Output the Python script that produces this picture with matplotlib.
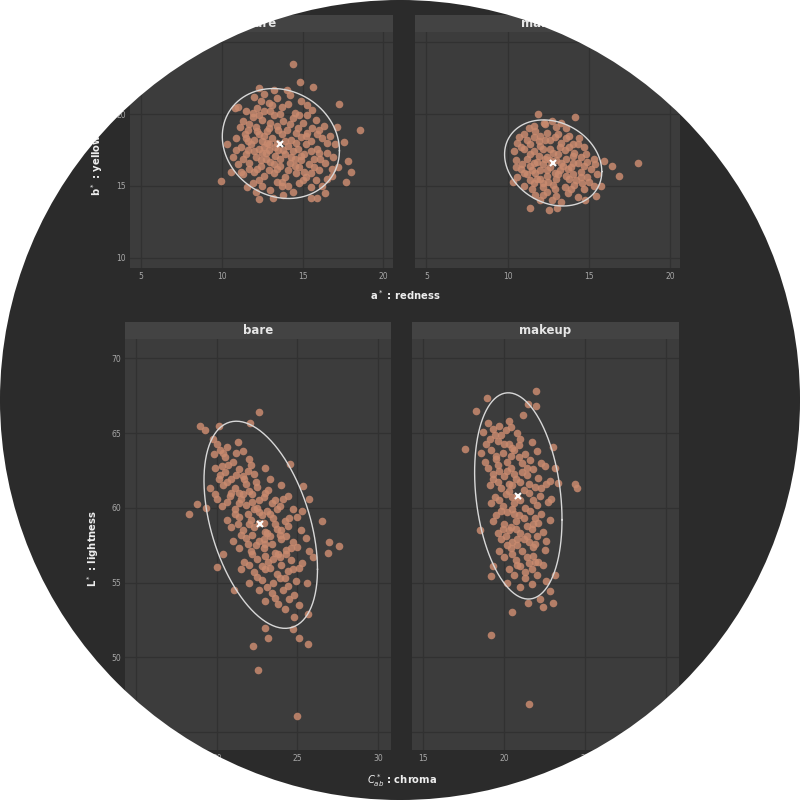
import numpy as np
import matplotlib
matplotlib.use("Agg")
import matplotlib.pyplot as plt
from matplotlib.patches import Circle

# ---- data ----
groups = ["bare", "makeup"]

# a* (redness) / b* (yellowness)
bare_ab = [
    (14.38, 23.47), (14.83, 22.24), (15.66, 21.85), (17.26, 20.69), (18.56, 18.89), (9.91, 15.33),
    (12.29, 14.10), (13.16, 14.14), (15.54, 14.19), (15.91, 14.14), (16.37, 14.49), (17.67, 15.30),
    (18.02, 15.99), (17.81, 16.76), (17.57, 18.08), (17.11, 19.08), (10.78, 20.39), (10.32, 17.92),
    (10.53, 15.99), (11.57, 14.95), (12.29, 21.78), (13.22, 21.67),
    (12.0, 21.2), (12.6, 21.4), (13.4, 21.1), (14.2, 21.3), (14.9, 20.9), (12.9, 20.8), (15.3, 20.6),
    (11.5, 20.2), (12.2, 20.4), (13.0, 20.2), (13.7, 20.5), (14.5, 20.1), (15.6, 20.3), (11.0, 20.5),
    (11.3, 19.5), (11.9, 19.8), (12.5, 19.6), (13.2, 19.9), (13.8, 19.5), (14.4, 19.7), (15.0, 19.4),
    (15.8, 19.6), (16.3, 19.2), (11.6, 18.9), (12.1, 19.1), (12.8, 18.8), (13.4, 19.2), (14.0, 18.9),
    (14.7, 19.0), (15.3, 18.7), (16.0, 18.9), (16.7, 18.5), (10.9, 18.3), (11.4, 18.6), (12.0, 18.2),
    (12.6, 18.5), (13.1, 18.3), (13.7, 18.6), (14.3, 18.2), (14.9, 18.4), (15.5, 18.1), (16.2, 18.3),
    (17.0, 17.9), (11.2, 17.7), (11.8, 17.9), (12.3, 17.6), (12.9, 17.9), (13.5, 17.5), (14.1, 17.8),
    (14.7, 17.6), (15.2, 17.9), (15.9, 17.6), (16.5, 17.3), (10.7, 17.0), (11.5, 17.2), (12.1, 17.0),
    (12.7, 17.3), (13.3, 17.1), (13.9, 17.2), (14.5, 16.9), (15.1, 17.2), (15.7, 16.9), (16.4, 16.6),
    (17.2, 16.3), (11.0, 16.5), (11.7, 16.6), (12.4, 16.4), (13.0, 16.7), (13.6, 16.4), (14.2, 16.6),
    (14.8, 16.3), (15.4, 16.5), (16.0, 16.1), (16.8, 16.2), (11.3, 15.8), (12.0, 16.0), (12.6, 15.7),
    (13.2, 15.9), (13.9, 15.6), (14.6, 15.9), (15.2, 15.6), (15.8, 15.4), (16.5, 15.5), (11.9, 15.2),
    (12.5, 15.0), (13.4, 15.3), (14.1, 15.0), (14.8, 15.2), (15.5, 14.9), (16.2, 15.0), (13.0, 14.7),
    (14.4, 14.6), (12.8, 18.0), (13.3, 17.7), (13.9, 18.1), (12.5, 17.3), (13.6, 16.9), (14.4, 17.4),
    (12.2, 18.8), (13.0, 19.4), (14.6, 18.7), (12.7, 16.9), (12.4, 20.9), (13.6, 20.0), (14.8, 19.9),
    (11.7, 19.3), (12.3, 18.6), (13.5, 18.9), (15.6, 19.0), (11.6, 18.1), (12.6, 17.7), (14.3, 17.0),
    (15.5, 17.4), (12.2, 16.2), (13.4, 16.2), (14.9, 16.8), (13.7, 15.3), (15.1, 16.0), (16.1, 16.9),
    (11.6, 17.5), (12.3, 19.9), (13.1, 20.6), (14.1, 20.7), (11.9, 20.1), (12.9, 19.0), (14.2, 19.3),
    (15.3, 19.9), (11.1, 19.1), (12.5, 18.1), (13.4, 18.0), (14.6, 18.0), (15.2, 18.5), (16.5, 18.0),
    (11.5, 18.3), (12.0, 17.4), (12.9, 17.5), (13.8, 17.5), (14.9, 17.1), (16.0, 17.3), (11.3, 16.9),
    (12.4, 16.8), (13.2, 16.5), (14.5, 16.4), (15.7, 16.3), (11.7, 16.2), (12.9, 16.1), (14.1, 16.1),
    (15.5, 15.9), (12.3, 15.4), (13.7, 15.0), (15.0, 15.4), (16.8, 15.7), (12.1, 14.6), (13.8, 14.4),
    (11.2, 16.0), (10.9, 17.5), (16.9, 17.0), (15.9, 18.6), (14.0, 21.7), (12.6, 20.2),
]
makeup_ab = [
    (11.86, 20.0), (14.15, 19.81), (18.02, 16.58), (16.87, 15.69), (16.43, 16.41), (15.95, 16.74),
    (11.39, 13.45), (12.55, 13.33), (13.01, 13.45), (14.77, 14.03), (15.45, 14.31), (15.75, 15.02),
    (10.31, 15.30), (10.72, 18.42), (12.22, 19.40),
    (11.6, 19.2), (12.3, 19.3), (13.0, 19.1), (13.6, 19.0), (11.0, 18.6), (11.7, 18.8), (12.4, 18.7),
    (13.1, 18.6), (13.8, 18.5), (14.4, 18.3), (10.6, 18.0), (11.2, 18.2), (11.9, 18.1), (12.6, 18.2),
    (13.3, 18.0), (14.0, 17.9), (14.7, 17.7), (10.4, 17.4), (11.0, 17.6), (11.6, 17.4), (12.2, 17.6),
    (12.8, 17.3), (13.5, 17.5), (14.1, 17.3), (14.8, 17.2), (15.3, 16.9), (10.5, 16.8), (11.2, 16.9),
    (11.8, 16.7), (12.4, 17.0), (13.0, 16.8), (13.6, 16.9), (14.3, 16.6), (14.9, 16.7), (10.8, 16.2),
    (11.4, 16.4), (12.0, 16.1), (12.6, 16.3), (13.2, 16.1), (13.9, 16.3), (14.5, 16.0), (15.1, 16.2),
    (15.5, 15.8), (10.6, 15.6), (11.2, 15.8), (11.8, 15.5), (12.4, 15.7), (13.0, 15.5), (13.6, 15.7),
    (14.2, 15.4), (14.9, 15.6), (11.0, 15.0), (11.6, 15.2), (12.2, 14.9), (12.8, 15.1), (13.5, 14.9),
    (14.1, 15.1), (14.7, 14.8), (15.3, 15.0), (11.7, 14.4), (12.4, 14.6), (13.0, 14.3), (13.7, 14.5),
    (14.3, 14.2), (12.0, 14.0), (13.3, 13.9), (12.6, 16.8), (13.1, 17.2), (12.2, 16.5), (13.4, 16.4),
    (12.9, 15.9), (11.9, 17.1), (13.7, 16.2), (12.5, 15.3), (12.0, 18.5), (12.9, 18.4), (11.4, 17.9),
    (13.8, 17.7), (14.5, 17.0), (11.5, 16.1), (14.0, 15.8), (12.7, 14.0), (12.2, 15.2),
    (11.3, 19.0), (12.7, 19.5), (13.3, 19.4), (11.6, 18.4), (12.3, 18.2), (13.6, 18.3), (14.3, 17.9),
    (10.8, 17.7), (11.4, 17.2), (12.0, 17.8), (12.6, 17.6), (13.2, 17.7), (14.0, 17.1), (10.9, 16.5),
    (11.6, 16.6), (12.3, 16.9), (13.3, 16.6), (14.0, 16.6), (14.7, 16.4), (11.0, 15.9), (11.7, 15.9),
    (12.4, 16.1), (13.1, 15.8), (13.8, 15.5), (14.5, 15.6), (15.0, 15.3), (11.4, 15.4), (12.0, 15.5),
    (12.9, 14.8), (13.9, 14.8), (14.6, 15.2), (12.2, 14.4), (11.5, 14.8), (10.5, 16.3), (15.4, 16.5),
]

# C*ab (chroma) / L* (lightness)
bare_CL = [
    (22.61, 66.42), (18.95, 65.47), (19.26, 65.24), (18.29, 59.58), (18.75, 60.29), (19.32, 60.02),
    (19.98, 56.02), (20.35, 56.91), (21.05, 54.51), (26.52, 59.09), (26.98, 57.75), (27.55, 57.42),
    (26.87, 56.98), (25.95, 56.69), (25.70, 60.58), (25.37, 61.47), (24.51, 62.95), (25.62, 54.95),
    (25.12, 53.53), (25.66, 52.91), (24.71, 51.91), (25.12, 51.31), (25.64, 50.91), (22.96, 51.98),
    (23.17, 51.31), (22.24, 50.73), (22.53, 49.13), (24.81, 52.69), (24.20, 53.25), (22.04, 65.69),
    (20.10, 65.47), (19.77, 64.64), (24.96, 46.05),
    (20.0, 64.3), (20.6, 64.1), (21.3, 64.4), (19.8, 63.6), (20.5, 63.4), (21.2, 63.7), (22.0, 63.3),
    (19.9, 62.7), (20.7, 62.9), (21.4, 62.6), (22.1, 62.9), (23.0, 62.7), (20.2, 62.2), (20.9, 61.9),
    (21.6, 62.1), (22.3, 62.3), (23.3, 61.9), (19.6, 61.3), (20.4, 61.5), (21.1, 61.3), (21.8, 61.6),
    (22.5, 61.4), (23.2, 61.2), (24.0, 61.5), (20.0, 60.6), (20.8, 60.8), (21.5, 60.6), (22.2, 60.9),
    (22.9, 60.7), (23.6, 60.5), (24.4, 60.8), (20.3, 60.1), (21.1, 59.9), (21.8, 60.2), (22.5, 60.0),
    (23.1, 59.8), (23.9, 60.1), (24.7, 59.9), (20.6, 59.2), (21.4, 59.4), (22.1, 59.2), (22.8, 59.5),
    (23.5, 59.3), (24.2, 59.1), (25.0, 59.4), (20.9, 58.7), (21.6, 58.5), (22.3, 58.7), (23.0, 58.4),
    (23.7, 58.6), (24.4, 58.8), (25.2, 58.5), (21.0, 57.8), (21.8, 58.0), (22.6, 57.8), (23.3, 58.1),
    (24.0, 57.9), (24.7, 57.7), (25.5, 58.0), (21.4, 57.3), (22.1, 57.1), (22.9, 57.3), (23.6, 57.0),
    (24.3, 57.2), (25.0, 57.4), (21.7, 56.4), (22.5, 56.6), (23.2, 56.4), (23.9, 56.7), (24.6, 56.5),
    (25.3, 56.3), (21.5, 55.9), (22.3, 55.7), (23.0, 55.9), (23.7, 55.6), (24.4, 55.8), (25.1, 56.0),
    (22.0, 55.0), (22.8, 55.2), (23.5, 55.0), (24.2, 55.3), (24.9, 55.1), (22.6, 54.5), (23.4, 54.3),
    (24.1, 54.5), (24.8, 54.2), (23.0, 53.8), (23.8, 53.6), (24.5, 53.9),
    (20.2, 63.9), (21.6, 63.8), (20.5, 62.4), (21.9, 62.5), (20.9, 61.0), (22.0, 61.1), (23.0, 61.0),
    (21.4, 60.3), (22.2, 60.4), (23.4, 60.3), (21.9, 59.6), (22.6, 59.7), (23.3, 59.6), (22.0, 58.9),
    (22.9, 59.0), (23.6, 58.9), (22.2, 58.2), (23.1, 58.3), (23.9, 58.2), (22.4, 57.5), (23.4, 57.6),
    (23.0, 56.8), (23.8, 56.9), (22.8, 56.1), (24.0, 56.2),
    (20.4, 63.7), (21.0, 63.1), (20.3, 62.8), (21.2, 62.2), (21.7, 61.9), (20.6, 61.7), (21.4, 61.0),
    (22.4, 61.7), (20.6, 60.4), (21.6, 60.9), (22.6, 60.5), (24.1, 60.6), (21.1, 59.6), (22.3, 59.9),
    (23.7, 59.9), (24.5, 59.3), (21.3, 58.9), (22.6, 59.0), (24.0, 58.5), (21.5, 58.2), (22.9, 57.9),
    (24.3, 58.1), (21.9, 57.6), (23.0, 57.6), (24.6, 57.3), (22.2, 56.9), (23.5, 56.6), (24.3, 56.9),
    (22.0, 56.2), (23.3, 56.0), (24.7, 55.9), (22.5, 55.4), (23.9, 55.3), (23.1, 54.7), (24.4, 54.8),
    (23.6, 54.0), (20.1, 61.9), (19.9, 60.9), (25.3, 59.8), (25.7, 57.1),
]
makeup_CL = [
    (21.97, 67.80), (21.49, 66.95), (21.95, 66.80), (21.18, 66.24), (18.96, 67.36), (18.28, 66.47),
    (17.56, 63.91), (24.39, 61.62), (24.49, 61.36), (18.49, 58.51), (19.32, 56.13), (19.21, 55.47),
    (23.15, 55.53), (20.45, 53.02), (19.21, 51.47), (21.49, 53.62), (22.42, 53.36), (23.04, 53.62),
    (22.22, 53.91), (22.84, 54.47), (23.31, 61.69), (23.15, 62.69), (23.04, 64.07), (18.59, 63.69),
    (21.55, 46.91),
    (19.0, 65.7), (19.7, 65.5), (20.3, 65.8), (18.7, 65.1), (19.4, 64.9), (20.1, 65.2), (20.8, 65.0),
    (18.9, 64.3), (19.6, 64.5), (20.3, 64.3), (21.0, 64.6), (21.7, 64.4), (19.2, 63.9), (19.9, 63.7),
    (20.6, 63.9), (21.3, 63.6), (22.0, 63.8), (18.8, 63.1), (19.5, 63.3), (20.2, 63.1), (20.9, 63.4),
    (21.6, 63.2), (22.3, 63.0), (19.0, 62.7), (19.7, 62.5), (20.4, 62.7), (21.1, 62.4), (21.8, 62.6),
    (22.5, 62.8), (19.3, 61.9), (20.0, 62.1), (20.7, 61.9), (21.4, 62.2), (22.1, 62.0), (22.8, 61.8),
    (19.1, 61.5), (19.8, 61.3), (20.5, 61.5), (21.2, 61.2), (21.9, 61.4), (22.6, 61.6), (19.4, 60.7),
    (20.1, 60.9), (20.8, 60.7), (21.5, 61.0), (22.2, 60.8), (22.9, 60.6), (19.2, 60.3), (19.9, 60.1),
    (20.6, 60.3), (21.3, 60.0), (22.0, 60.2), (22.7, 60.4), (19.5, 59.5), (20.2, 59.7), (20.9, 59.5),
    (21.6, 59.8), (22.3, 59.6), (19.3, 59.1), (20.0, 58.9), (20.7, 59.1), (21.4, 58.8), (22.1, 59.0),
    (22.8, 59.2), (19.6, 58.3), (20.3, 58.5), (21.0, 58.3), (21.7, 58.6), (22.4, 58.4), (19.8, 57.9),
    (20.5, 57.7), (21.2, 57.9), (21.9, 57.6), (22.6, 57.8), (19.7, 57.1), (20.4, 57.3), (21.1, 57.1),
    (21.8, 57.4), (22.5, 57.2), (20.0, 56.7), (20.7, 56.5), (21.4, 56.7), (22.1, 56.4), (20.3, 55.9),
    (21.0, 56.1), (21.7, 55.9), (22.4, 56.2), (20.6, 55.5), (21.3, 55.3), (22.0, 55.5), (21.0, 54.7),
    (21.7, 54.9),
    (19.8, 64.9), (20.5, 64.0), (19.6, 62.9), (20.6, 62.3), (21.0, 61.7), (20.3, 61.1), (21.0, 60.5),
    (20.5, 59.9), (21.2, 59.3), (20.4, 58.7), (21.4, 58.1), (20.8, 57.5), (21.5, 56.3),
    (19.3, 65.3), (20.4, 65.4), (19.1, 64.6), (20.0, 64.3), (20.9, 64.2), (19.5, 63.5), (20.4, 63.5),
    (21.1, 63.0), (19.3, 62.3), (20.2, 62.5), (21.4, 62.7), (19.6, 61.7), (20.3, 61.6), (21.5, 61.6),
    (22.3, 61.3), (19.7, 60.5), (20.5, 60.7), (21.8, 60.5), (19.8, 59.8), (20.6, 59.6), (21.9, 59.3),
    (19.9, 58.6), (20.7, 58.6), (21.8, 58.9), (20.1, 58.1), (20.8, 57.9), (22.0, 58.1), (20.2, 57.5),
    (21.5, 57.7), (20.5, 56.9), (21.8, 56.8), (20.8, 56.2), (21.9, 56.4), (21.3, 55.7), (22.6, 55.1),
    (20.2, 55.0),
]

# group means (white x) and 95% ellipse: centre, half extents along x / y, correlation
means_ab = [(13.6, 17.9), (12.8, 16.6)]
means_CL = [(22.7, 58.9), (20.85, 60.8)]
ell_ab = [(13.65, 17.95, 3.63, 3.82, -0.13), (12.8, 16.6, 2.99, 2.99, -0.20)]
ell_CL = [(22.72, 58.87, 3.52, 6.93, -0.43), (20.87, 60.8, 2.70, 6.90, -0.23)]

ab_xticks = [5, 10, 15, 20]
ab_yticks = [10, 15, 20, 25]
CL_xticks = [15, 20, 25, 30]
CL_yticks = [45, 50, 55, 60, 65, 70]

BG = "#2b2b2b"
PANEL = "#3c3c3c"
STRIP = "#434343"
GRID = "#313131"
PT = "#c98a6f"

fig = plt.figure(figsize=(8, 8), dpi=100, facecolor=BG)


def px_axes(x0, y0, x1, y1, **kw):
    return fig.add_axes([x0 / 800, 1 - y1 / 800, (x1 - x0) / 800, (y1 - y0) / 800], **kw)


def ellipse(cx, cy, hx, hy, r):
    t = np.linspace(0, 2 * np.pi, 200)
    x = cx + hx * np.cos(t)
    y = cy + hy * (r * np.cos(t) + np.sqrt(1 - r * r) * np.sin(t))
    return x, y


def panel(box, strip_top, title, pts, mean, ell, xlim, ylim, xt, yt):
    x0, y0, x1, y1 = box
    ax = px_axes(x0, y0, x1, y1, facecolor=PANEL)
    pts = np.array(pts)
    ax.scatter(pts[:, 0], pts[:, 1], s=30, color=PT, alpha=0.85, lw=0, zorder=2)
    ex, ey = ellipse(*ell)
    ax.plot(ex, ey, color="#d8d8d8", lw=1.0, zorder=3)
    ax.plot(mean[0], mean[1], marker="x", color="white", ms=4.5, mew=1.5, zorder=4)
    ax.set_xlim(*xlim)
    ax.set_ylim(*ylim)
    ax.set_xticks(xt)
    ax.set_yticks(yt)
    ax.grid(True, color=GRID, lw=0.9)
    ax.set_axisbelow(True)
    ax.tick_params(length=0, labelsize=5.5, labelcolor="#a8a8a8", pad=3)
    for s in ax.spines.values():
        s.set_visible(False)
    st = px_axes(x0, strip_top, x1, y0, facecolor=STRIP)
    st.set_xticks([])
    st.set_yticks([])
    for s in st.spines.values():
        s.set_visible(False)
    st.text(0.5, 0.5, title, ha="center", va="center", color="#e6e6e6",
            fontsize=8.5, fontweight="bold", transform=st.transAxes)
    return ax


ab_boxes = [(130, 32, 393, 268), (415, 32, 680, 268)]
CL_boxes = [(125, 339, 391, 750), (412, 339, 679, 750)]
data_ab = [bare_ab, makeup_ab]
data_CL = [bare_CL, makeup_CL]

for i, g in enumerate(groups):
    ax = panel(ab_boxes[i], 15, g, data_ab[i], means_ab[i], ell_ab[i],
               (4.3, 20.6), (9.3, 25.7), ab_xticks, ab_yticks)
    if i == 1:
        ax.tick_params(labelleft=False)
    ax = panel(CL_boxes[i], 322, g, data_CL[i], means_CL[i], ell_CL[i],
               (14.3, 30.8), (43.8, 71.3), CL_xticks, CL_yticks)
    if i == 1:
        ax.tick_params(labelleft=False)

lab = dict(color="#eeeeee", fontsize=7.2, fontweight="bold")
fig.text(405 / 800, 1 - 295 / 800, r"a$^*$ : redness", ha="center", va="center", **lab)
fig.text(97 / 800, 1 - 152 / 800, r"b$^*$ : yellowness", ha="center", va="center", rotation=90, **lab)
fig.text(93 / 800, 1 - 548 / 800, r"L$^*$ : lightness", ha="center", va="center", rotation=90, **lab)
fig.text(402 / 800, 1 - 781 / 800, r"$C^*_{ab}$ : chroma", ha="center", va="center", **lab)

# white outside the round crop
ring = Circle((0.5, 0.5), 490.3 / 800, transform=fig.transFigure, fill=False,
              edgecolor="white", lw=130, zorder=100)
fig.patches.append(ring)

fig.savefig("out.png", dpi=100, facecolor=BG)
